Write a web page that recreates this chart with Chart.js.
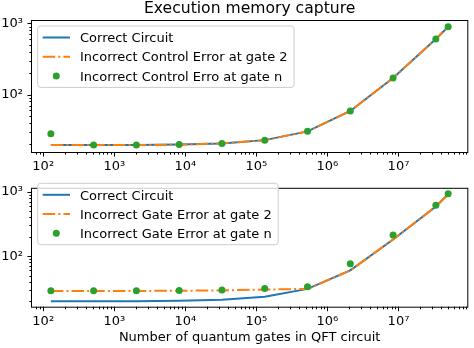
<!DOCTYPE html>
<html>
<head>
<meta charset="utf-8">
<script src="https://cdn.jsdelivr.net/npm/chart.js@4.4.1/dist/chart.umd.min.js"></script>
<style>
  html, body { margin: 0; padding: 0; background: #fff; }
  #wrap { position: relative; width: 474px; height: 348px; }
  canvas { position: absolute; left: 0; }
</style>
</head>
<body>
<div id="wrap">
  <canvas id="ctrlChart" width="474" height="172" style="top:0"></canvas>
  <canvas id="gateChart" width="474" height="176" style="top:172px"></canvas>
</div>
<script>
// number of gates in each QFT circuit
var gates = [128, 512, 2048, 8192, 32768, 131072, 524288, 2097152, 8388608, 33554432, 50000000];

// control error runs
var ctrlCorrect  = [19.5, 19.5, 19.5, 19.8, 20.6, 22.9, 30.4, 58.8, 171, 601, 896];
var ctrlErrGate2 = [19.5, 19.5, 19.5, 19.8, 20.6, 22.9, 30.4, 58.8, 171, 601, 896];
var ctrlErrGateN = [28.2, 19.5, 19.5, 19.8, 20.6, 22.9, 30.4, 58.8, 171, 601, 896];

// gate error runs
var gateCorrect  = [19.9, 19.9, 19.9, 20.2, 21.0, 23.5, 31.0, 60, 181, 590, 915];
var gateErrGate2 = [28.8, 28.8, 28.8, 29.0, 29.4, 30.3, 31.0, 60, 181, 590, 915];
var gateErrGateN = [29.0, 29.0, 29.0, 29.3, 29.9, 31.4, 33.5, 76.4, 213, 615, 929];

var xTicks = [1e2, 1e3, 1e4, 1e5, 1e6, 1e7];
var xTickText = ['10²', '10³', '10⁴', '10⁵', '10⁶', '10⁷'];
var yTicks = [1e2, 1e3];
var yTickText = ['10²', '10³'];

var FONT = "'DejaVu Sans', sans-serif";
Chart.defaults.font.family = FONT;
Chart.defaults.color = '#000';

function tickText(list, text) {
  return function(v) {
    for (var i = 0; i < list.length; i++) {
      if (Math.abs(v / list[i] - 1) < 1e-6) return text[i];
    }
    return '';
  };
}

// spines, log tick marks, title and boxed legend
var decor = {
  id: 'decor',
  afterDraw: function(chart) {
    var ctx = chart.ctx, a = chart.chartArea;
    var o = chart.options.plugins.decor;
    ctx.save();
    ctx.strokeStyle = '#000';
    ctx.lineWidth = 1;
    ['x', 'y'].forEach(function(id) {
      var sc = chart.scales[id];
      sc.ticks.forEach(function(t) {
        var v = t.value;
        var e = Math.floor(Math.log10(v) + 1e-9);
        var m = v / Math.pow(10, e);
        if (Math.abs(m - Math.round(m)) > 1e-6) return;
        var len = Math.round(m) === 1 ? 4.5 : 2.6;
        var p = Math.round(sc.getPixelForValue(v)) + 0.5;
        ctx.beginPath();
        if (id === 'x') { ctx.moveTo(p, a.bottom); ctx.lineTo(p, a.bottom + len); }
        else { ctx.moveTo(a.left, p); ctx.lineTo(a.left - len, p); }
        ctx.stroke();
      });
    });
    ctx.strokeRect(a.left - 0.5, a.top - 0.5, a.right - a.left + 1, a.bottom - a.top + 1);

    if (o.title) {
      ctx.fillStyle = '#000';
      ctx.font = '15.6px ' + FONT;
      ctx.textAlign = 'center';
      ctx.textBaseline = 'alphabetic';
      ctx.fillText(o.title, (a.left + a.right) / 2, 13.3);
    }

    // legend
    var ds = chart.data.datasets;
    ctx.font = '13px ' + FONT;
    var w = 0;
    ds.forEach(function(d) { w = Math.max(w, ctx.measureText(d.label).width); });
    var lx = a.left + 5.7, ly = o.legendTop, gap = 19.2;
    var bw = 42.3 + w + 6.5, bh = 11.5 * 2 + gap * (ds.length - 1);
    var r = 3;
    ctx.beginPath();
    ctx.moveTo(lx + r, ly);
    ctx.lineTo(lx + bw - r, ly);
    ctx.arcTo(lx + bw, ly, lx + bw, ly + r, r);
    ctx.lineTo(lx + bw, ly + bh - r);
    ctx.arcTo(lx + bw, ly + bh, lx + bw - r, ly + bh, r);
    ctx.lineTo(lx + r, ly + bh);
    ctx.arcTo(lx, ly + bh, lx, ly + bh - r, r);
    ctx.lineTo(lx, ly + r);
    ctx.arcTo(lx, ly, lx + r, ly, r);
    ctx.closePath();
    ctx.fillStyle = 'rgba(255,255,255,0.8)';
    ctx.fill();
    ctx.strokeStyle = '#cccccc';
    ctx.stroke();
    ds.forEach(function(d, i) {
      var y = ly + 11.5 + i * gap;
      if (d.showLine === false) {
        ctx.fillStyle = d.pointBackgroundColor;
        ctx.beginPath();
        ctx.arc(lx + 18.6, y, d.pointRadius, 0, Math.PI * 2);
        ctx.fill();
      } else {
        ctx.strokeStyle = d.borderColor;
        ctx.lineWidth = d.borderWidth;
        ctx.setLineDash(d.borderDash || []);
        ctx.beginPath();
        ctx.moveTo(lx + 5, y);
        ctx.lineTo(lx + 32.3, y);
        ctx.stroke();
        ctx.setLineDash([]);
      }
      ctx.fillStyle = '#000';
      ctx.textAlign = 'left';
      ctx.textBaseline = 'alphabetic';
      ctx.fillText(d.label, lx + 42.3, y + 4.7);
    });
    ctx.restore();
  }
};

function makeChart(el, labels, series, opt) {
  return new Chart(document.getElementById(el), {
    type: 'line',
    data: {
      datasets: [
        { label: labels[0], data: gates.map(function(g, i) { return {x: g, y: series[0][i]}; }),
          borderColor: '#1f77b4', borderWidth: 2, pointRadius: 0, order: 3 },
        { label: labels[1], data: gates.map(function(g, i) { return {x: g, y: series[1][i]}; }),
          borderColor: '#ff7f0e', borderWidth: 2, borderDash: [12.5, 3.1, 2, 3.1], pointRadius: 0, order: 2 },
        { label: labels[2], data: gates.map(function(g, i) { return {x: g, y: series[2][i]}; }),
          showLine: false, pointRadius: 3.5, pointBorderWidth: 0,
          pointBackgroundColor: '#2ca02c', borderColor: '#2ca02c', order: 1 }
      ]
    },
    options: {
      responsive: false,
      animation: false,
      layout: { padding: { left: 0, right: 3, top: opt.padTop, bottom: 0 } },
      plugins: {
        legend: { display: false },
        tooltip: { enabled: false },
        decor: { title: opt.title, legendTop: opt.legendTop }
      },
      scales: {
        x: {
          type: 'logarithmic',
          min: 69.5, max: 9.3e7,
          grid: { display: false, drawTicks: false },
          border: { display: false },
          ticks: { autoSkip: false, maxRotation: 0, minRotation: 0, padding: 6.7,
                   font: { size: 13 }, callback: tickText(xTicks, xTickText) },
          title: { display: !!opt.xTitle, text: opt.xTitle || '', font: { size: 13 },
                   padding: { top: 0, bottom: 2.2 } },
          afterFit: function(s) { s.height = opt.xHeight; }
        },
        y: {
          type: 'logarithmic',
          min: opt.yMin, max: opt.yMax,
          grid: { display: false, drawTicks: false },
          border: { display: false },
          ticks: { autoSkip: false, padding: 9, font: { size: 13 },
                   callback: tickText(yTicks, yTickText) },
          afterFit: function(s) { s.width = 32; }
        }
      }
    },
    plugins: [decor]
  });
}

makeChart('ctrlChart',
  ['Correct Circuit', 'Incorrect Control Error at gate 2', 'Incorrect Control Erro at gate n'],
  [ctrlCorrect, ctrlErrGate2, ctrlErrGateN],
  { title: 'Execution memory capture', padTop: 21, xHeight: 20, yMin: 15.6, yMax: 1077, legendTop: 26 });

makeChart('gateChart',
  ['Correct Circuit', 'Incorrect Gate Error at gate 2', 'Incorrect Gate Error at gate n'],
  [gateCorrect, gateErrGate2, gateErrGateN],
  { padTop: 4.7, xHeight: 41.3, yMin: 16.4, yMax: 1112, legendTop: 11.3,
    xTitle: 'Number of quantum gates in QFT circuit' });
</script>
</body>
</html>
